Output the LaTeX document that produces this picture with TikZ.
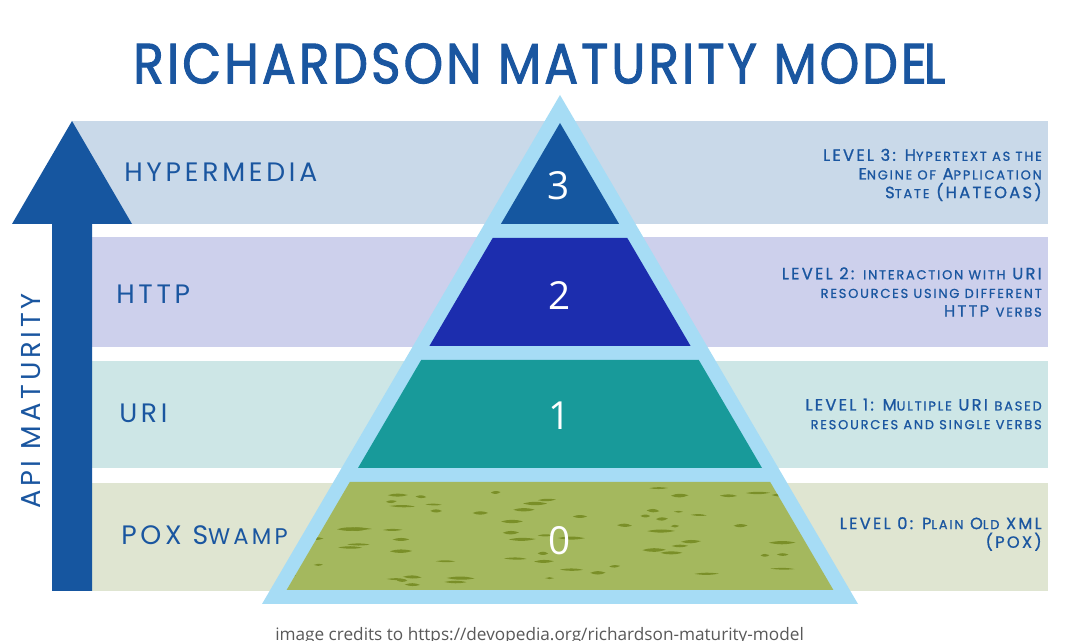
\documentclass[tikz,border=0pt]{standalone}
\usepackage{fontspec}
\newfontfamily\pop{Poppins}
\newfontfamily\poptitle{Poppins}[LetterSpace=6, FakeBold=1.8]
\newfontfamily\poplab{Poppins}[LetterSpace=14]
\newfontfamily\popsp{Poppins}[LetterSpace=14, FakeBold=1]
\newfontfamily\osans{Open Sans}
\definecolor{titleblue}{HTML}{1A56A0}
\definecolor{bandthree}{HTML}{C9D9E9}
\definecolor{bandtwo}{HTML}{CDD0EC}
\definecolor{bandone}{HTML}{CDE6E6}
\definecolor{bandzero}{HTML}{DFE5D1}
\definecolor{arrowblue}{HTML}{1656A0}
\definecolor{pyrlight}{HTML}{A6DCF5}
\definecolor{lvthree}{HTML}{1557A0}
\definecolor{lvtwo}{HTML}{1C2DAE}
\definecolor{lvone}{HTML}{189A9A}
\definecolor{lvzero}{HTML}{A4B85E}
\definecolor{swampdark}{HTML}{7A8F28}
\definecolor{creditgray}{HTML}{595959}
\newcommand\sm[1]{{\fontsize{9.7pt}{14pt}\selectfont\MakeUppercase{#1}}}
\newcommand\smbig[1]{{\fontsize{17pt}{18pt}\selectfont\MakeUppercase{#1}}}
\tikzset{
  leftlabel/.style={anchor=west, text=titleblue, font=\poplab\fontsize{20pt}{22pt}\selectfont, inner sep=0pt},
  rtext/.style={anchor=east, align=right, text=titleblue, inner sep=0pt, font=\popsp\fontsize{12.2pt}{14pt}\selectfont},
  levelnum/.style={text=white, font=\osans\fontsize{29pt}{30pt}\selectfont, inner sep=0pt}
}
\begin{document}
\begin{tikzpicture}[x=0.75pt,y=-0.75pt]
\useasboundingbox (0,0) rectangle (1083,641);
\fill[white] (0,0) rectangle (1083,641);
% title
\node[inner sep=0pt, anchor=south west, text=titleblue] (title) at (133,84)
  {\resizebox{609pt}{30pt}{\poptitle RICHARDSON MATURITY MODE\kern-0.06em L}};
% bands
\fill[bandthree] (72,121) rectangle (1048,224);
\fill[bandtwo] (72,237) rectangle (1048,347);
\fill[bandone] (72,361) rectangle (1048,468);
\fill[bandzero] (72,483) rectangle (1048,591);
% arrow
\fill[arrowblue] (52,591) -- (52,224) -- (12,224) -- (72,121) -- (132,224) -- (92,224) -- (92,591) -- cycle;
\node[rotate=90, text=titleblue, font=\poplab\fontsize{20.5pt}{22pt}\selectfont, inner sep=0pt] (apimat) at (31,401) {API MATURITY};
% left labels
\node[leftlabel] (hyper) at (124,172) {HYPERMEDIA};
\node[leftlabel] (http) at (116,294) {HTTP};
\node[leftlabel] (uri) at (119,413) {URI};
\node[leftlabel] (pox) at (121,535) {POX S\smbig{wamp}};
% pyramid
\fill[pyrlight] (560,95) -- (858,604) -- (262,604) -- cycle;
\fill[lvthree] (560,123) -- (619.1,224) -- (500.9,224) -- cycle;
\fill[lvtwo] (492.7,238) -- (627.3,238) -- (690.6,346) -- (429.4,346) -- cycle;
\fill[lvone] (421.2,360) -- (698.8,360) -- (762,468) -- (358,468) -- cycle;
\begin{scope}
\clip (349.8,482) -- (770.2,482) -- (833.4,590) -- (286.6,590) -- cycle;
\fill[lvzero] (280,480) rectangle (840,592);
\pgfmathsetseed{5}
\foreach \i in {1,...,70}{
  \pgfmathsetmacro\px{285+rnd*550}
  \pgfmathsetmacro\py{488+rnd*98}
  \pgfmathsetmacro\rx{4+rnd*10}
  \pgfmathsetmacro\hh{1.2+rnd*1.2}
  \pgfmathsetmacro\sk{-2+rnd*4}
  \fill[swampdark] (\px-\rx,\py) .. controls (\px-\rx*0.3,\py-\hh+\sk*0.3) and (\px+\rx*0.3,\py-\hh) .. (\px+\rx,\py+\sk*0.4)
     .. controls (\px+\rx*0.3,\py+\hh) and (\px-\rx*0.3,\py+\hh) .. cycle;
}
\end{scope}
\node[levelnum] (n3) at (559,186) {3};
\node[levelnum] (n2) at (560,296) {2};
\node[levelnum] (n1) at (560,416) {1};
\node[levelnum] (n0) at (560,541) {0};
% right descriptions
\node[rtext] (d3) at (1042,175) {LEVEL 3: H\sm{ypertext as the}\\E\sm{ngine of} A\sm{pplication}\\S\sm{tate} (HATEOAS)};
\node[rtext] (d2) at (1042,292) {LEVEL 2: \sm{interaction with} URI\\\sm{resources using different}\\HTTP \sm{verbs}};
\node[rtext] (d1) at (1042,414) {LEVEL 1: M\sm{ultiple} URI \sm{based}\\\sm{resources and single verbs}};
\node[rtext] (d0) at (1042,534) {LEVEL 0: P\sm{lain} O\sm{ld} XML\\(POX)};
% credits
\node[anchor=base west, text=creditgray, font=\osans\fontsize{12.9pt}{14pt}\selectfont, inner sep=0pt] (credit) at (275,641) {image credits to https://devopedia.org/richardson-maturity-model};
\end{tikzpicture}
\end{document}
